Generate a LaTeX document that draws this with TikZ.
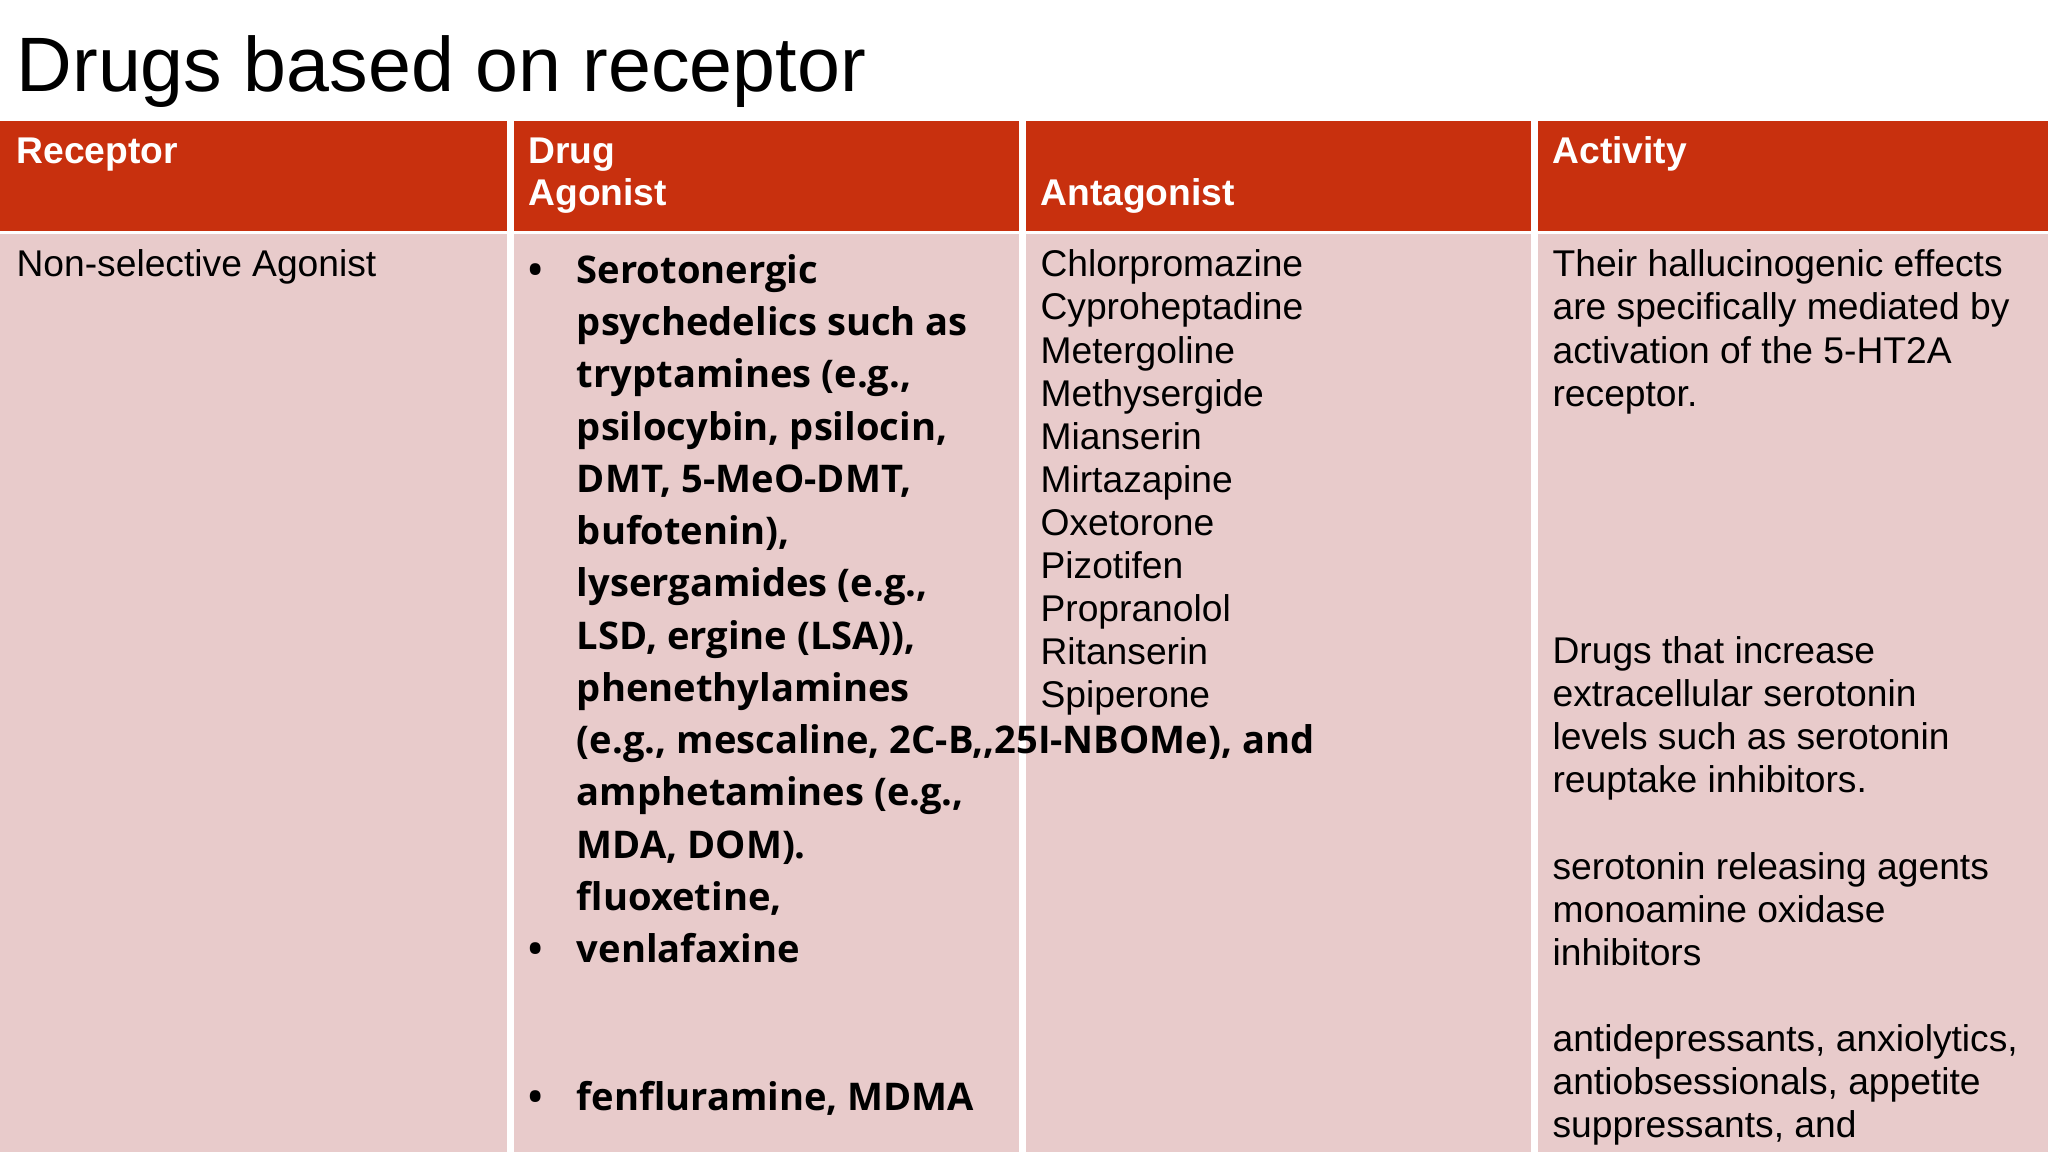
\documentclass[tikz,border=0pt]{standalone}
\usepackage{fontspec}
\setmainfont{Liberation Sans}
\newfontfamily\bfam{Open Sans}
\definecolor{hdr}{HTML}{C8300E}
\definecolor{cell}{HTML}{E8CBCB}
\begin{document}
\begin{tikzpicture}[x=0.01cm,y=-0.01cm,
  txt/.style={anchor=base west,inner sep=0,font=\fontsize{8.1}{9.4}\selectfont},
  htxt/.style={anchor=base west,inner sep=0,text=white,font=\fontsize{8.1}{9.4}\selectfont\bfseries},
  btxt/.style={anchor=base west,inner sep=0,font=\fontsize{8.3}{11}\bfam\bfseries},
  ttl/.style={anchor=base west,inner sep=0,font=\fontsize{16.8}{20}\selectfont}]
\useasboundingbox (0,0) rectangle (1568,882);
\fill[white] (0,0) rectangle (1568,882);
\node[ttl] (title) at (12,70) {Drugs based on receptor};
\fill[hdr] (0,93) rectangle (1568,177);
\fill[cell] (0,179) rectangle (1568,882);
\foreach \x in {391,783,1175} \draw[white,line width=1.5pt] (\x,93) -- (\x,882);
\node[htxt] (h1) at (12,125) {Receptor};
\node[htxt] (h2) at (404,125) {Drug};
\node[htxt] (h3) at (404,157) {Agonist};
\node[htxt] (h4) at (796,157) {Antagonist};
\node[htxt] (h5) at (1188,125) {Activity};
\node[txt] (r1) at (12,212) {Non-selective Agonist};
\foreach \t [count=\i from 0] in {Serotonergic,psychedelics such as,tryptamines (e.g.{,},psilocybin{,} psilocin{,},DMT{,} 5-MeO-DMT{,},bufotenin){,},lysergamides (e.g.{,},LSD{,} ergine (LSA)){,},phenethylamines,(e.g.{,} mescaline{,} 2C-B{,},25I-NBOMe){,} and,amphetamines (e.g.{,},MDA{,} DOM).,fluoxetine{,},venlafaxine}
  \node[btxt] (ag\i) at (441,217+40*\i) {\t};
\node[btxt] (ag15) at (441,850) {fenfluramine, MDMA};
\foreach \y [count=\i] in {217,737,850} \node[btxt] (bul\i) at (404,\y) {•};
\foreach \t [count=\i from 0] in {Chlorpromazine,Cyproheptadine,Metergoline,Methysergide,Mianserin,Mirtazapine,Oxetorone,Pizotifen,Propranolol,Ritanserin,Spiperone}
  \node[txt] (an\i) at (796,212+33*\i) {\t};
\foreach \t/\y [count=\i] in {Their hallucinogenic effects/212,are specifically mediated by/245,activation of the 5-HT2A/278,receptor./311,
  Drugs that increase/508,extracellular serotonin/541,levels such as serotonin/574,reuptake inhibitors./607,
  serotonin releasing agents/673,monoamine oxidase/706,inhibitors/739,
  {antidepressants, anxiolytics,}/805,{antiobsessionals, appetite}/838,{suppressants, and}/871}
  \node[txt] (ac\i) at (1188,\y) {\t};
\end{tikzpicture}
\end{document}
